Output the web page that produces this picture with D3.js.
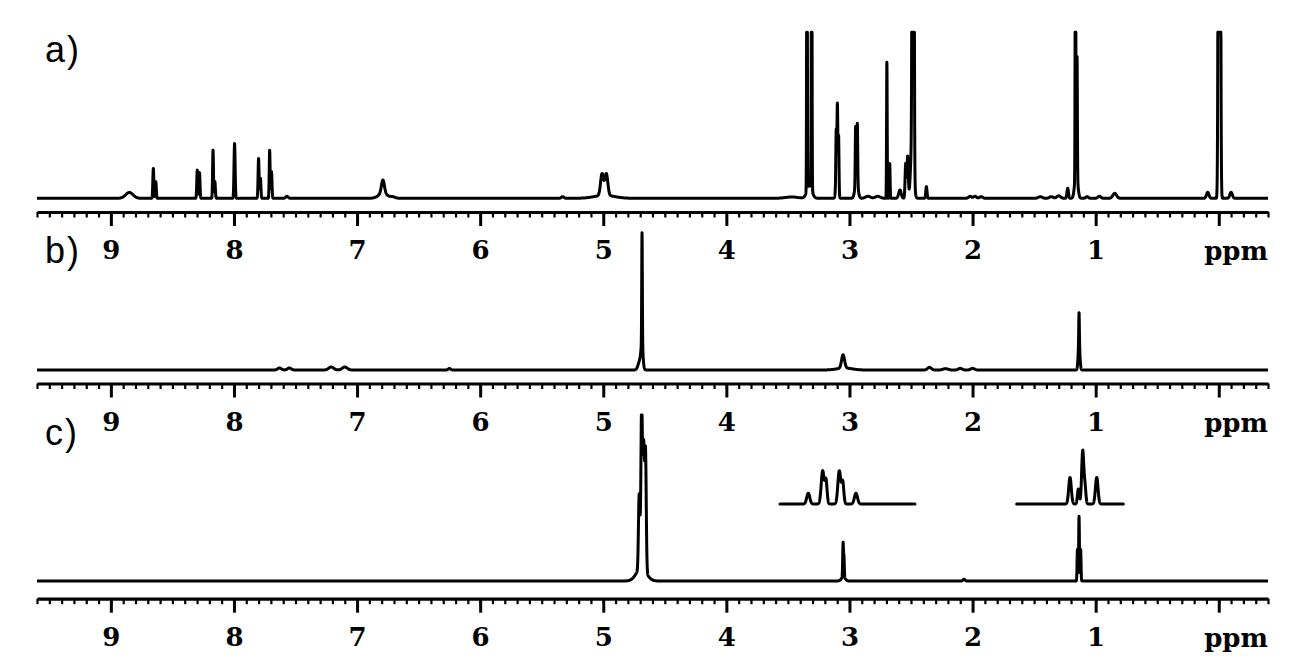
<!DOCTYPE html>
<html>
<head>
<meta charset="utf-8">
<script src="https://cdn.jsdelivr.net/npm/d3@7"></script>
<style>
  body { margin: 0; background: #fff; }
</style>
</head>
<body>
<div id="nmr"></div>
<script>
// peak lists: [ppm, intensity, linewidth (ppm)]
// intensity 100 = top of the plotting window (taller lines are cut)
var peaksA = [
  [8.85, 3.5, 0.03],
  [8.655, 18, 0.004], [8.635, 10, 0.004],
  [8.298, 17, 0.004], [8.28, 15.5, 0.004],
  [8.17, 29, 0.0035], [8.155, 10, 0.004],
  [7.995, 33, 0.0045],
  [7.80, 24, 0.004], [7.785, 12, 0.004],
  [7.71, 29, 0.0035], [7.695, 16, 0.004],
  [7.57, 1.2, 0.01],
  [6.79, 8, 0.012], [6.79, 3, 0.035], [6.71, 0.8, 0.02],
  [5.33, 1, 0.01],
  [5.01, 13, 0.012], [4.975, 13, 0.012], [4.99, 1.8, 0.08],
  [3.47, 0.8, 0.05],
  [3.345, 250, 0.0025], [3.307, 250, 0.0025], [3.325, 8, 0.02],
  [3.108, 25, 0.003], [3.098, 32, 0.003], [3.088, 29, 0.003], [3.10, 26, 0.008],
  [2.95, 34, 0.003], [2.936, 36, 0.003], [2.943, 11, 0.012],
  [2.85, 1.2, 0.02], [2.77, 1.2, 0.02],
  [2.696, 82, 0.0025], [2.673, 21, 0.003],
  [2.59, 5, 0.01], [2.543, 21, 0.005], [2.527, 25, 0.005],
  [2.483, 1000, 0.005], [2.49, 37, 0.012],
  [2.375, 7, 0.005],
  [2.02, 1.2, 0.012], [1.98, 1.2, 0.012], [1.93, 1, 0.012],
  [1.45, 1, 0.015], [1.36, 1, 0.015], [1.30, 1.5, 0.015], [1.227, 6, 0.006],
  [1.164, 220, 0.0025], [1.151, 72, 0.0025], [1.158, 16, 0.012],
  [1.07, 1, 0.01], [0.97, 1.2, 0.012], [0.845, 3, 0.015],
  [0.09, 3.6, 0.01], [-0.005, 1000, 0.006], [-0.10, 3.6, 0.01]
]

var peaksB = [
  [7.63, 1.2, 0.015], [7.55, 1.2, 0.015], [7.21, 1.8, 0.02], [7.10, 1.8, 0.02],
  [6.25, 0.9, 0.01],
  [4.685, 67, 0.0025], [4.685, 12, 0.008], [4.70, 6, 0.015],
  [3.052, 8, 0.012], [3.04, 1.2, 0.06],
  [2.35, 1.6, 0.015], [2.22, 0.8, 0.02], [2.10, 1, 0.015], [2.0, 1, 0.015],
  [1.135, 18.5, 0.0025], [1.135, 16, 0.007]
]

var peaksC = [
  [4.69, 8, 0.04],
  [4.708, 45, 0.006], [4.688, 100, 0.006], [4.672, 72, 0.006], [4.657, 72, 0.006],
  [3.052, 20, 0.003], [3.045, 12, 0.003], [3.05, 2.5, 0.015],
  [2.07, 1, 0.008],
  [1.135, 39, 0.003], [1.122, 19, 0.003], [1.148, 19, 0.003]
]

// expansions drawn above spectrum c
var insetQuartet = [
  [3.0886, 6.5, 0.0017], [3.0726, 20, 0.0016], [3.0689, 14, 0.0012],
  [3.0541, 20, 0.0016], [3.0503, 13, 0.0012], [3.0356, 6.5, 0.0017]
]
var insetTriplet = [
  [1.140, 16, 0.0017], [1.129, 9, 0.0012], [1.1233, 32, 0.0014],
  [1.1203, 10, 0.0012], [1.1049, 16, 0.0017]
]

var ppmRange = [9.6, -0.4]
var majorTicks = [9, 8, 7, 6, 5, 4, 3, 2, 1, 0]
var panelNames = ["a)", "b)", "c)"]
var unitLabel = "ppm"

var W = 1297, H = 667

var svg = d3.select("#nmr").append("svg")
  .attr("width", W)
  .attr("height", H)

var x = d3.scaleLinear().domain(ppmRange).range([37, 1268])

// sum of line shapes over a ppm grid
function trace(peaks, from, to, step) {
  var pts = []
  var n = Math.round((from - to) / step)
  for (var i = 0; i <= n; i++) {
    var p = from - i * step
    var v = 0
    for (var k = 0; k < peaks.length; k++) {
      var dx = p - peaks[k][0]
      var s = peaks[k][2]
      if (Math.abs(dx) > 8 * s) continue
      v += peaks[k][1] * Math.exp(-dx * dx / (2 * s * s))
    }
    pts.push([p, v])
  }
  return pts
}

var panels = [
  { name: panelNames[0], peaks: peaksA, base: 198.3, axisY: 212, labelY: 62 },
  { name: panelNames[1], peaks: peaksB, base: 370, axisY: 383.5, labelY: 263 },
  { name: panelNames[2], peaks: peaksC, base: 581, axisY: 598.7, labelY: 445 }
]

panels.forEach(function(pn) {
  var y = d3.scaleLinear().domain([0, 100]).range([pn.base, pn.base - 166]).clamp(true)

  var line = d3.line()
    .x(d => x(d[0]))
    .y(d => y(d[1]))

  svg.append("path")
    .attr("class", "spectrum")
    .attr("d", line(trace(pn.peaks, ppmRange[0], ppmRange[1], 0.0005)))
    .attr("fill", "none")
    .attr("stroke", "#000")
    .attr("stroke-width", 3)
    .attr("stroke-linejoin", "round")

  // minor ticks every 0.1 ppm
  var minor = d3.range(-4, 97).map(i => i / 10)
  var gMinor = svg.append("g")
    .attr("transform", `translate(0,${pn.axisY})`)
    .call(d3.axisBottom(x).tickValues(minor).tickSize(5.5).tickSizeOuter(0).tickFormat(""))
  gMinor.select(".domain")
    .attr("stroke", "#000")
    .attr("stroke-width", 3.2)
  gMinor.selectAll(".tick line")
    .attr("stroke", "#000")
    .attr("stroke-width", 2.2)

  var gMajor = svg.append("g")
    .attr("transform", `translate(0,${pn.axisY})`)
    .call(d3.axisBottom(x).tickValues(majorTicks).tickSize(14).tickPadding(15)
      .tickFormat(d => d === 0 ? "" : d))
  gMajor.select(".domain").remove()
  gMajor.selectAll(".tick line")
    .attr("stroke", "#000")
    .attr("stroke-width", 3)
  gMajor.selectAll(".tick text")
    .style("font-family", "'DejaVu Serif', serif")
    .style("font-weight", "bold")
    .style("font-size", "26px")
    .attr("fill", "#000")

  svg.append("text")
    .attr("x", 1268)
    .attr("y", pn.axisY + 48)
    .attr("text-anchor", "end")
    .style("font-family", "'DejaVu Serif', serif")
    .style("font-weight", "bold")
    .style("font-size", "26px")
    .text(unitLabel)

  svg.append("text")
    .attr("x", 45)
    .attr("y", pn.labelY)
    .style("font-family", "'Liberation Sans', Arial, sans-serif")
    .style("font-size", "36px")
    .style("letter-spacing", "2px")
    .text(pn.name)
})

// expansions of the quartet and triplet in c)
var insets = [
  { peaks: insetQuartet, dom: [3.12, 2.97], rng: [780, 915] },
  { peaks: insetTriplet, dom: [1.21, 1.07], rng: [1016.7, 1123.3] }
]
var yIn = d3.scaleLinear().domain([0, 100]).range([504, 504 - 166])

insets.forEach(function(ins) {
  var xi = d3.scaleLinear().domain(ins.dom).range(ins.rng)
  var line = d3.line()
    .x(d => xi(d[0]))
    .y(d => yIn(d[1]))
  svg.append("path")
    .attr("class", "inset")
    .attr("d", line(trace(ins.peaks, ins.dom[0], ins.dom[1], 0.0001)))
    .attr("fill", "none")
    .attr("stroke", "#000")
    .attr("stroke-width", 3)
    .attr("stroke-linejoin", "round")
    .attr("stroke-linecap", "round")
})
</script>
</body>
</html>
